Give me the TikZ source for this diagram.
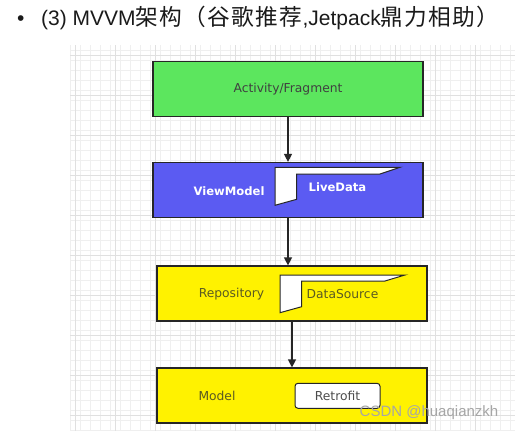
\documentclass[tikz,border=0pt]{standalone}
\usepackage{fontspec}
\usetikzlibrary{arrows.meta}
\setmainfont{Liberation Sans}
\newfontfamily\cjk[Scale=1.08,LetterSpace=6]{Noto Sans CJK SC}
\newfontfamily\boxfont{DejaVu Sans}
\definecolor{gridminor}{HTML}{EFEFEF}
\definecolor{gridmajor}{HTML}{E0E0E0}
\definecolor{actgreen}{HTML}{5CE65E}
\definecolor{vmblue}{HTML}{5B5BF2}
\definecolor{repyellow}{HTML}{FFF200}
\definecolor{yellowtext}{HTML}{5A5A22}
\definecolor{titlegray}{HTML}{1A1A1A}
\begin{document}
\begin{tikzpicture}[x=1pt,y=-1pt,
  layer/.style={draw=black!85,line width=1.2pt,minimum width=270pt,minimum height=55pt,inner sep=0pt},
  flow/.style={draw=black!85,line width=1.3pt,-{Triangle[length=8pt,width=8pt]}},
  lbl/.style={font=\boxfont\fontsize{12.3}{14}\selectfont,inner sep=0pt},
  blbl/.style={font=\boxfont\bfseries\fontsize{11.6}{14}\selectfont,inner sep=0pt,text=white},
  tab/.style={fill=white,draw=black!85,line width=1pt,line join=miter}]
\useasboundingbox (0,0) rectangle (515,431);
% grid background
\fill[white] (70,45) rectangle (515,431);
\draw[gridminor,line width=0.6pt] (70,45) grid[step=10pt] (515,431);
\foreach \x in {75,115,...,515} \draw[gridmajor,line width=0.7pt] (\x,45) -- (\x,431);
\foreach \y in {55,95,...,431} \draw[gridmajor,line width=0.7pt] (70,\y) -- (515,\y);
% title
\node[anchor=base west,text=titlegray,font=\fontsize{21}{24}\selectfont,inner sep=0pt] (bullet) at (17,25.5) {\textbullet};
\node[anchor=base west,text=titlegray,font=\fontsize{21}{24}\selectfont,inner sep=0pt] (title) at (41,25.5)
  {(3) MVVM{\cjk 架构（谷歌推荐}{,Jetpack}{\cjk 鼎力相助）}};
% boxes
\node[layer,fill=actgreen] (act) at (288,89) {};
\node[layer,fill=vmblue] (vm) at (288,190) {};
\node[layer,fill=repyellow] (rep) at (292,293.5) {};
\node[layer,fill=repyellow] (mod) at (292,395.5) {};
% tabs
\draw[tab] (275,167.3) -- (400,167.3) -- (380,174) -- (296.7,174) -- (296.7,199.3) -- (275,205.3) -- cycle;
\draw[tab] (280,275) -- (405,275) -- (385,281) -- (301.7,281) -- (301.7,306.7) -- (280,312.7) -- cycle;
\node[fill=white,draw=black!85,line width=1pt,rounded corners=3pt,minimum width=85pt,minimum height=25pt,inner sep=0pt] (retro) at (337.5,395.8) {};
% labels
\node[lbl,text=black!75] (tact) at (288,89) {Activity/Fragment};
\node[blbl] (tvm) at (229,191) {ViewModel};
\node[blbl] (tld) at (337.5,187) {LiveData};
\node[lbl,text=yellowtext] (trep) at (231.5,294) {Repository};
\node[lbl,text=yellowtext] (tds) at (342.5,294) {DataSource};
\node[lbl,text=yellowtext] (tmod) at (217,396) {Model};
\node[lbl,text=black!70] (tret) at (retro) {Retrofit};
% arrows
\draw[flow] (act.south) -- (vm.north);
\draw[flow] (vm.south) -- (vm.south |- rep.north);
\draw[flow] (rep.south) -- (mod.north);
% watermark
\node[text=black!35,font=\fontsize{15}{17}\selectfont,inner sep=0pt] (wm) at (429,413) {CSDN @huaqianzkh};
\end{tikzpicture}
\end{document}
